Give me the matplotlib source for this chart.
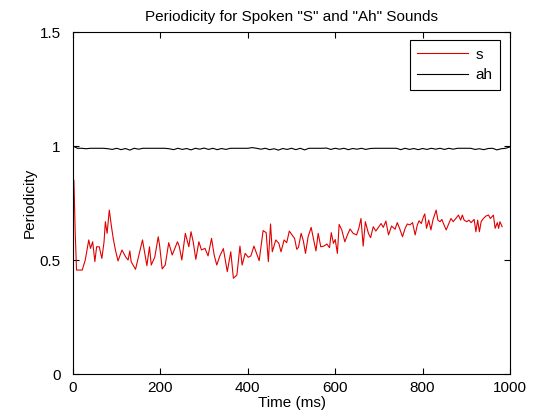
import numpy as np
import matplotlib
matplotlib.use('Agg')
import matplotlib.pyplot as plt

plt.rcParams['font.family'] = ['Liberation Sans', 'DejaVu Sans']

# "s" sound periodicity
s_time = [2, 5, 8, 21, 28, 36, 40, 45, 50, 54, 60, 66, 71, 74, 78, 83, 88, 92, 97, 103,
          112, 120, 126, 130, 133, 143, 150, 159, 169, 175, 179, 187, 195, 198, 204, 211,
          219, 227, 239, 243, 249, 257, 265, 270, 275, 281, 288, 294, 302, 309, 317, 323,
          329, 336, 344, 353, 361, 367, 375, 382, 387, 394, 401, 407, 414, 426, 435, 442,
          447, 452, 456, 464, 471, 476, 483, 489, 495, 503, 507, 512, 516, 522, 527, 532,
          538, 545, 550, 556, 561, 567, 574, 581, 587, 591, 596, 600, 605, 609, 615, 622,
          628, 634, 641, 649, 654, 659, 664, 669, 676, 681, 687, 693, 700, 705, 710, 716,
          722, 729, 737, 742, 748, 754, 760, 765, 771, 777, 783, 788, 792, 797, 802, 805,
          809, 814, 819, 824, 831, 835, 840, 844, 849, 854, 860, 865, 870, 876, 882, 887,
          891, 895, 901, 906, 911, 918, 922, 926, 930, 934, 939, 945, 951, 955, 962, 966,
          971, 974, 977, 982]
s_val = [0.85, 0.62, 0.456, 0.456, 0.50, 0.588, 0.551, 0.58, 0.493, 0.558, 0.558, 0.507,
         0.58, 0.668, 0.617, 0.719, 0.646, 0.595, 0.544, 0.496, 0.544, 0.515, 0.50, 0.54,
         0.493, 0.459, 0.515, 0.588, 0.475, 0.558, 0.478, 0.512, 0.602, 0.566, 0.461, 0.478,
         0.576, 0.522, 0.58, 0.561, 0.50, 0.617, 0.558, 0.624, 0.58, 0.503, 0.58, 0.544,
         0.551, 0.518, 0.595, 0.522, 0.478, 0.518, 0.55, 0.449, 0.536, 0.42, 0.434, 0.561,
         0.478, 0.529, 0.512, 0.518, 0.561, 0.497, 0.629, 0.62, 0.493, 0.658, 0.536, 0.588,
         0.573, 0.536, 0.588, 0.576, 0.627, 0.605, 0.595, 0.547, 0.556, 0.617, 0.585, 0.529,
         0.602, 0.643, 0.595, 0.54, 0.617, 0.558, 0.561, 0.57, 0.554, 0.62, 0.573, 0.59,
         0.529, 0.656, 0.632, 0.58, 0.61, 0.636, 0.617, 0.61, 0.639, 0.682, 0.561, 0.668,
         0.617, 0.598, 0.646, 0.627, 0.646, 0.66, 0.643, 0.671, 0.61, 0.649, 0.635, 0.664,
         0.635, 0.602, 0.639, 0.658, 0.654, 0.664, 0.61, 0.654, 0.672, 0.66, 0.69, 0.702,
         0.639, 0.675, 0.632, 0.678, 0.719, 0.675, 0.668, 0.678, 0.654, 0.632, 0.66, 0.682,
         0.668, 0.682, 0.697, 0.675, 0.697, 0.675, 0.668, 0.675, 0.664, 0.678, 0.624, 0.675,
         0.624, 0.668, 0.682, 0.693, 0.697, 0.682, 0.697, 0.639, 0.664, 0.639, 0.668, 0.646]

# "ah" sound periodicity, every 10 ms
ah_time = list(range(0, 1001, 10))
ah_val = [1.0, 0.99, 0.99, 0.988, 0.99, 0.99, 0.99, 0.99, 0.988, 0.985,
          0.99, 0.984, 0.989, 0.982, 0.99, 0.986, 0.99, 0.99, 0.99, 0.99,
          0.99, 0.99, 0.988, 0.984, 0.99, 0.985, 0.989, 0.983, 0.99, 0.986,
          0.991, 0.985, 0.99, 0.984, 0.989, 0.985, 0.99, 0.99, 0.99, 0.99,
          0.99, 0.993, 0.99, 0.986, 0.99, 0.984, 0.988, 0.982, 0.989, 0.985,
          0.99, 0.984, 0.99, 0.983, 0.99, 0.99, 0.99, 0.99, 0.991, 0.985,
          0.99, 0.986, 0.99, 0.984, 0.989, 0.986, 0.99, 0.985, 0.989, 0.99,
          0.99, 0.99, 0.99, 0.99, 0.99, 0.984, 0.99, 0.985, 0.989, 0.984,
          0.989, 0.985, 0.99, 0.986, 0.99, 0.985, 0.99, 0.986, 0.99, 0.99,
          0.99, 0.99, 0.985, 0.988, 0.984, 0.989, 0.99, 0.983, 0.988, 0.99,
          0.996]

fig = plt.figure(figsize=(5.6, 4.2), dpi=100)
ax = fig.add_axes([0.1304, 0.1095, 0.7803, 0.8143])

ax.plot(s_time, s_val, color='#e00000', lw=0.8, label='s')
ax.plot(ah_time, ah_val, color='black', lw=0.8, label='ah')

ax.set_xlim(0, 1000)
ax.set_ylim(0, 1.5)
ax.set_xticks([0, 200, 400, 600, 800, 1000])
ax.set_yticks([0, 0.5, 1, 1.5])
ax.set_yticklabels(['0', '0.5', '1', '1.5'])
ax.tick_params(direction='in', top=True, right=True, length=4, labelsize=11, pad=5)
ax.tick_params(axis='y', pad=9)
for sp in ax.spines.values():
    sp.set_linewidth(0.8)

ax.set_title('Periodicity for Spoken "S" and "Ah" Sounds', fontsize=11, pad=8)
ax.set_xlabel('Time (ms)', fontsize=11, labelpad=1)
ax.set_ylabel('Periodicity', fontsize=11, labelpad=2)

leg = ax.legend(loc='upper right', fontsize=11, fancybox=False, framealpha=1,
                edgecolor='black', handlelength=3.3, handletextpad=0.5, borderpad=0.5,
                labelspacing=0.45, borderaxespad=0, bbox_to_anchor=(0.977, 0.977))
leg.get_frame().set_linewidth(0.8)

fig.savefig('out.png', dpi=100)
